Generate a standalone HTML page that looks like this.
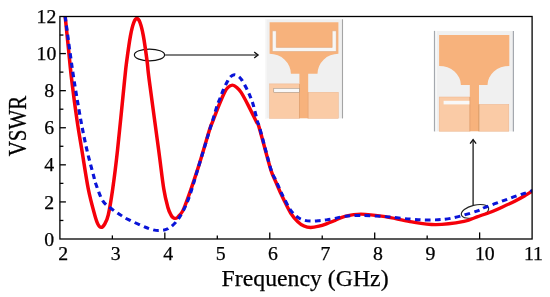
<!DOCTYPE html>
<html><head><meta charset="utf-8"><title>VSWR</title>
<style>
html,body{margin:0;padding:0;background:#fff;}
svg{display:block;font-family:"Liberation Serif",serif;}
</style></head><body>
<svg width="550" height="297" viewBox="0 0 550 297">
<rect width="550" height="297" fill="#fff"/>
<defs><clipPath id="pc"><rect x="59.9" y="16.5" width="472.2" height="222.5"/></clipPath></defs>
<!-- inset 1 -->
<g>
<rect x="265" y="19.3" width="77.8" height="99.1" fill="#f0f0f0"/>
<rect x="265" y="19.3" width="1.6" height="99.1" fill="#f8f8f8"/>
<line x1="342.5" y1="19.3" x2="342.5" y2="118.4" stroke="#a4a4a4" stroke-width="1.1"/>
<rect x="269.7" y="83.9" width="30" height="34.4" fill="#facba6" stroke="#eeb48a" stroke-width="0.5"/>
<rect x="307.9" y="92.3" width="30.4" height="26" fill="#facba6" stroke="#eeb48a" stroke-width="0.5"/>
<path d="M269.6,22.3 H338.4 V53.8 A20.9,20 0 0 0 317.5,73.8 H308.2 V118.3 H299.4 V73.8 H290.9 A21.3,20 0 0 0 269.6,53.8 Z" fill="#f7b27c"/>
<line x1="299.5" y1="84" x2="299.5" y2="118.3" stroke="#d89866" stroke-width="0.6"/>
<line x1="308.1" y1="92.3" x2="308.1" y2="118.3" stroke="#e0a070" stroke-width="0.5"/>
<rect x="273.8" y="88.3" width="25.5" height="4" fill="#f8f8f8" stroke="#9a8878" stroke-width="0.5"/>
<path d="M272.3,30.8 H276.3 V47.4 H332.2 V30.8 H336.3 V51.5 H272.3 Z" fill="#f7f6f5" stroke="#dca070" stroke-width="0.5"/>
</g>
<!-- inset 2 -->
<g>
<rect x="434.2" y="30.9" width="79.6" height="100.5" fill="#f0f0f0"/>
<rect x="435" y="30.9" width="1.8" height="100.5" fill="#fafafa"/>
<line x1="434.5" y1="30.9" x2="434.5" y2="131.4" stroke="#a4a8ae" stroke-width="1.2"/>
<line x1="513.4" y1="30.9" x2="513.4" y2="131.4" stroke="#a4a8ae" stroke-width="1.2"/>
<rect x="439.2" y="97" width="30.8" height="34.2" fill="#facba6" stroke="#eeb48a" stroke-width="0.5"/>
<rect x="478.8" y="104.4" width="30" height="26.8" fill="#facba6" stroke="#eeb48a" stroke-width="0.5"/>
<path d="M439.1,34.9 H509.3 V65.9 A21.8,19.2 0 0 0 487.5,85.1 H479 V131.2 H469.8 V85.1 H460.9 A21.8,19.2 0 0 0 439.1,65.9 Z" fill="#f7b27c"/>
<line x1="469.9" y1="97" x2="469.9" y2="131.2" stroke="#d89866" stroke-width="0.6"/>
<line x1="478.9" y1="104.4" x2="478.9" y2="131.2" stroke="#c08858" stroke-width="0.6"/>
<rect x="443.6" y="100.8" width="25.8" height="3.6" fill="#f8f8f8"/>
</g>
<!-- annotations -->
<g fill="none" stroke="#222" stroke-width="1.15">
<ellipse cx="149.5" cy="54.95" rx="15.1" ry="5.9" stroke="#111" stroke-width="1.2"/>
<line x1="165.1" y1="55" x2="257.5" y2="55" stroke="#555" stroke-width="1.35"/>
<path d="M254.2,52.1 L258.1,55 L254.2,57.9" stroke="#111" stroke-width="1.3"/>
<ellipse cx="475" cy="211.4" rx="14" ry="6.2" transform="rotate(-14 475 211.4)"/>
<line x1="473.1" y1="205" x2="473.1" y2="139.8" stroke="#111" stroke-width="1.25"/>
<path d="M470.1,143.6 L473.1,139.6 L476.1,143.6" stroke="#111" stroke-width="1.3"/>
</g>
<!-- curves -->
<g clip-path="url(#pc)"><g fill="none" transform="scale(1.07,1)">
<path d="M58.88,-5.00 C59.24,-1.22 60.16,8.53 61.03,17.70 C61.90,26.87 63.12,39.62 64.11,50.00 C65.11,60.38 65.70,68.31 67.01,80.00 C68.32,91.69 70.37,108.42 71.96,120.14 C73.55,131.87 74.78,138.88 76.54,150.36 C78.30,161.84 80.53,178.29 82.52,189.03 C84.52,199.77 86.99,208.92 88.50,214.81 C90.02,220.71 90.59,222.28 91.59,224.38 C92.59,226.48 93.47,227.40 94.49,227.40 C95.50,227.40 96.54,226.48 97.66,224.38 C98.79,222.28 99.94,220.71 101.21,214.81 C102.49,208.92 103.89,199.77 105.33,189.03 C106.76,178.29 107.96,168.53 109.81,150.36 C111.67,132.19 115.02,94.86 116.45,80.00 C117.88,65.14 117.49,68.60 118.41,61.20 C119.33,53.80 120.86,42.05 121.96,35.60 C123.07,29.15 124.05,25.35 125.05,22.50 C126.04,19.65 126.98,18.50 127.94,18.50 C128.91,18.50 129.84,19.65 130.84,22.50 C131.84,25.35 132.82,29.15 133.93,35.60 C135.03,42.05 136.56,53.80 137.48,61.20 C138.40,68.60 137.63,65.14 139.44,80.00 C141.25,94.86 146.04,132.19 148.32,150.36 C150.59,168.53 151.64,179.46 153.08,189.03 C154.53,198.60 155.89,203.43 157.01,207.76 C158.13,212.09 159.05,213.39 159.81,215.02 C160.58,216.64 160.97,216.96 161.59,217.53 C162.21,218.10 162.88,218.41 163.55,218.44 C164.22,218.47 164.94,218.24 165.61,217.74 C166.28,217.23 166.42,217.25 167.57,215.42 C168.72,213.59 169.63,214.58 172.52,206.76 C175.42,198.94 181.09,181.24 184.95,168.49 C188.82,155.73 193.41,138.00 195.70,130.21 C197.99,122.43 197.21,125.88 198.69,121.75 C200.17,117.62 202.73,110.31 204.58,105.44 C206.43,100.56 208.40,95.51 209.81,92.50 C211.23,89.49 211.85,88.62 213.08,87.40 C214.31,86.18 215.83,85.20 217.20,85.20 C218.57,85.20 219.94,86.18 221.31,87.40 C222.68,88.62 223.63,89.49 225.42,92.50 C227.21,95.51 229.69,100.56 232.06,105.44 C234.42,110.31 237.99,118.30 239.63,121.75 C241.26,125.21 240.53,121.67 241.87,126.19 C243.21,130.70 245.73,141.38 247.66,148.85 C249.60,156.32 251.78,165.48 253.46,171.00 C255.14,176.53 256.34,178.42 257.76,181.98 C259.17,185.54 260.75,189.47 261.96,192.35 C263.18,195.24 263.43,195.85 265.05,199.30 C266.67,202.76 269.45,209.34 271.68,213.10 C273.91,216.86 276.34,219.70 278.41,221.86 C280.48,224.03 282.12,225.15 284.11,226.09 C286.11,227.03 288.04,227.49 290.37,227.50 C292.71,227.52 295.69,226.80 298.13,226.20 C300.58,225.59 302.55,224.84 305.05,223.88 C307.54,222.92 310.31,221.66 313.08,220.45 C315.86,219.25 317.65,217.68 321.68,216.63 C325.72,215.57 330.90,214.11 337.29,214.11 C343.68,214.11 352.35,215.39 360.00,216.63 C367.65,217.87 375.30,220.24 383.18,221.56 C391.06,222.89 398.88,224.62 407.29,224.58 C415.70,224.55 427.23,222.65 433.64,221.36 C440.06,220.07 441.81,218.31 445.79,216.83 C449.78,215.35 453.68,214.11 457.57,212.50 C461.46,210.89 465.17,209.07 469.16,207.16 C473.15,205.25 478.01,202.88 481.50,201.02 C484.98,199.15 487.17,197.79 490.09,195.98 C493.02,194.17 497.57,191.11 499.07,190.14" stroke="#f5000a" stroke-width="3.3" stroke-linejoin="round"/>
<path d="M58.79,-5.00 C59.16,-1.22 60.39,11.87 61.03,17.70 C61.67,23.53 61.93,24.62 62.62,30.00 C63.30,35.38 64.05,41.67 65.14,50.00 C66.23,58.33 67.43,68.31 69.16,80.00 C70.89,91.69 73.49,108.42 75.51,120.14 C77.54,131.87 79.30,141.02 81.31,150.36 C83.32,159.69 86.17,170.47 87.57,176.14 C88.97,181.81 88.36,180.39 89.72,184.40 C91.07,188.41 93.52,196.33 95.70,200.21 C97.88,204.09 100.22,205.36 102.80,207.66 C105.39,209.96 108.61,212.16 111.21,214.01 C113.82,215.85 114.83,216.78 118.41,218.74 C121.99,220.71 128.93,224.05 132.71,225.79 C136.50,227.54 138.52,228.43 141.12,229.22 C143.72,230.01 145.72,230.59 148.32,230.53 C150.92,230.46 153.74,230.64 156.73,228.81 C159.72,226.98 163.10,224.31 166.26,219.55 C169.42,214.78 172.57,208.72 175.70,200.21 C178.83,191.70 181.68,180.15 185.05,168.49 C188.41,156.82 193.66,138.00 195.89,130.21 C198.12,122.43 197.21,125.93 198.41,121.75 C199.61,117.57 201.87,109.05 203.08,105.14 C204.30,101.23 204.75,100.89 205.70,98.30 C206.65,95.71 207.59,92.52 208.79,89.60 C209.98,86.68 211.79,82.93 212.90,80.80 C214.00,78.67 214.41,77.80 215.42,76.80 C216.43,75.80 217.76,74.88 218.97,74.80 C220.19,74.72 221.56,75.45 222.71,76.30 C223.86,77.15 224.63,77.92 225.89,79.90 C227.15,81.88 228.93,85.35 230.28,88.20 C231.64,91.05 232.98,94.29 234.02,97.00 C235.06,99.71 235.42,100.31 236.54,104.43 C237.66,108.56 239.80,118.13 240.75,121.75 C241.70,125.38 241.04,121.67 242.24,126.19 C243.44,130.70 246.03,141.38 247.94,148.85 C249.86,156.32 252.04,165.63 253.74,171.00 C255.44,176.38 256.71,177.72 258.13,181.07 C259.55,184.43 261.06,188.36 262.24,191.15 C263.43,193.93 263.66,194.60 265.23,197.79 C266.81,200.98 269.49,207.01 271.68,210.28 C273.88,213.56 276.34,215.79 278.41,217.43 C280.48,219.08 282.12,219.55 284.11,220.15 C286.11,220.76 288.04,220.97 290.37,221.06 C292.71,221.14 295.69,220.86 298.13,220.66 C300.58,220.45 302.55,220.22 305.05,219.85 C307.54,219.48 310.31,219.01 313.08,218.44 C315.86,217.87 317.65,216.93 321.68,216.43 C325.72,215.92 330.90,215.38 337.29,215.42 C343.68,215.45 352.35,216.02 360.00,216.63 C367.65,217.23 376.09,218.49 383.18,219.04 C390.26,219.60 396.11,220.08 402.52,219.95 C408.94,219.82 414.50,219.70 421.68,218.24 C428.86,216.78 440.50,212.93 445.61,211.19 C450.72,209.44 449.53,209.01 452.34,207.76 C455.14,206.52 459.28,204.96 462.43,203.74 C465.58,202.51 468.29,201.54 471.21,200.41 C474.14,199.29 476.85,198.16 480.00,196.99 C483.15,195.81 486.92,194.55 490.09,193.36 C493.27,192.17 497.57,190.42 499.07,189.84" stroke="#0a14d8" stroke-width="2.95" stroke-dasharray="5.3 4.1" stroke-dashoffset="-2.5"/>
</g></g>
<!-- axes -->
<rect x="59.9" y="16.5" width="472.2" height="222.5" fill="none" stroke="#000" stroke-width="1.3"/>
<g stroke="#000" stroke-width="1.3"><line x1="112.37" y1="239.00" x2="112.37" y2="235.40"/><line x1="164.83" y1="239.00" x2="164.83" y2="232.40"/><line x1="217.30" y1="239.00" x2="217.30" y2="235.40"/><line x1="269.77" y1="239.00" x2="269.77" y2="232.40"/><line x1="322.23" y1="239.00" x2="322.23" y2="235.40"/><line x1="374.70" y1="239.00" x2="374.70" y2="232.40"/><line x1="427.17" y1="239.00" x2="427.17" y2="235.40"/><line x1="479.63" y1="239.00" x2="479.63" y2="232.40"/><line x1="59.90" y1="220.46" x2="63.40" y2="220.46"/><line x1="59.90" y1="201.92" x2="65.90" y2="201.92"/><line x1="59.90" y1="183.38" x2="63.40" y2="183.38"/><line x1="59.90" y1="164.83" x2="65.90" y2="164.83"/><line x1="59.90" y1="146.29" x2="63.40" y2="146.29"/><line x1="59.90" y1="127.75" x2="65.90" y2="127.75"/><line x1="59.90" y1="109.21" x2="63.40" y2="109.21"/><line x1="59.90" y1="90.67" x2="65.90" y2="90.67"/><line x1="59.90" y1="72.12" x2="63.40" y2="72.12"/><line x1="59.90" y1="53.58" x2="65.90" y2="53.58"/><line x1="59.90" y1="35.04" x2="63.40" y2="35.04"/></g>
<g font-size="19.8px" fill="#000" stroke="#000" stroke-width="0.25"><text x="63.20" y="259.9" text-anchor="middle">2</text><text x="115.67" y="259.9" text-anchor="middle">3</text><text x="168.13" y="259.9" text-anchor="middle">4</text><text x="220.60" y="259.9" text-anchor="middle">5</text><text x="273.07" y="259.9" text-anchor="middle">6</text><text x="325.53" y="259.9" text-anchor="middle">7</text><text x="378.00" y="259.9" text-anchor="middle">8</text><text x="430.47" y="259.9" text-anchor="middle">9</text><text x="484.83" y="259.9" text-anchor="middle">10</text><text x="533.40" y="259.9" text-anchor="middle">11</text><text x="54.2" y="245.60" text-anchor="end">0</text><text x="54.2" y="208.52" text-anchor="end">2</text><text x="54.2" y="171.43" text-anchor="end">4</text><text x="54.2" y="134.35" text-anchor="end">6</text><text x="54.2" y="97.27" text-anchor="end">8</text><text x="56.4" y="60.18" text-anchor="end">10</text><text x="56.4" y="23.10" text-anchor="end">12</text></g>
<text x="221.6" y="285.8" font-size="23px" textLength="167" lengthAdjust="spacingAndGlyphs" fill="#000" stroke="#000" stroke-width="0.25">Frequency (GHz)</text>
<text transform="translate(25.6,126) rotate(-90) scale(1,1.19)" font-size="21px" text-anchor="middle" fill="#000" stroke="#000" stroke-width="0.25">VSWR</text>
</svg>
</body></html>
